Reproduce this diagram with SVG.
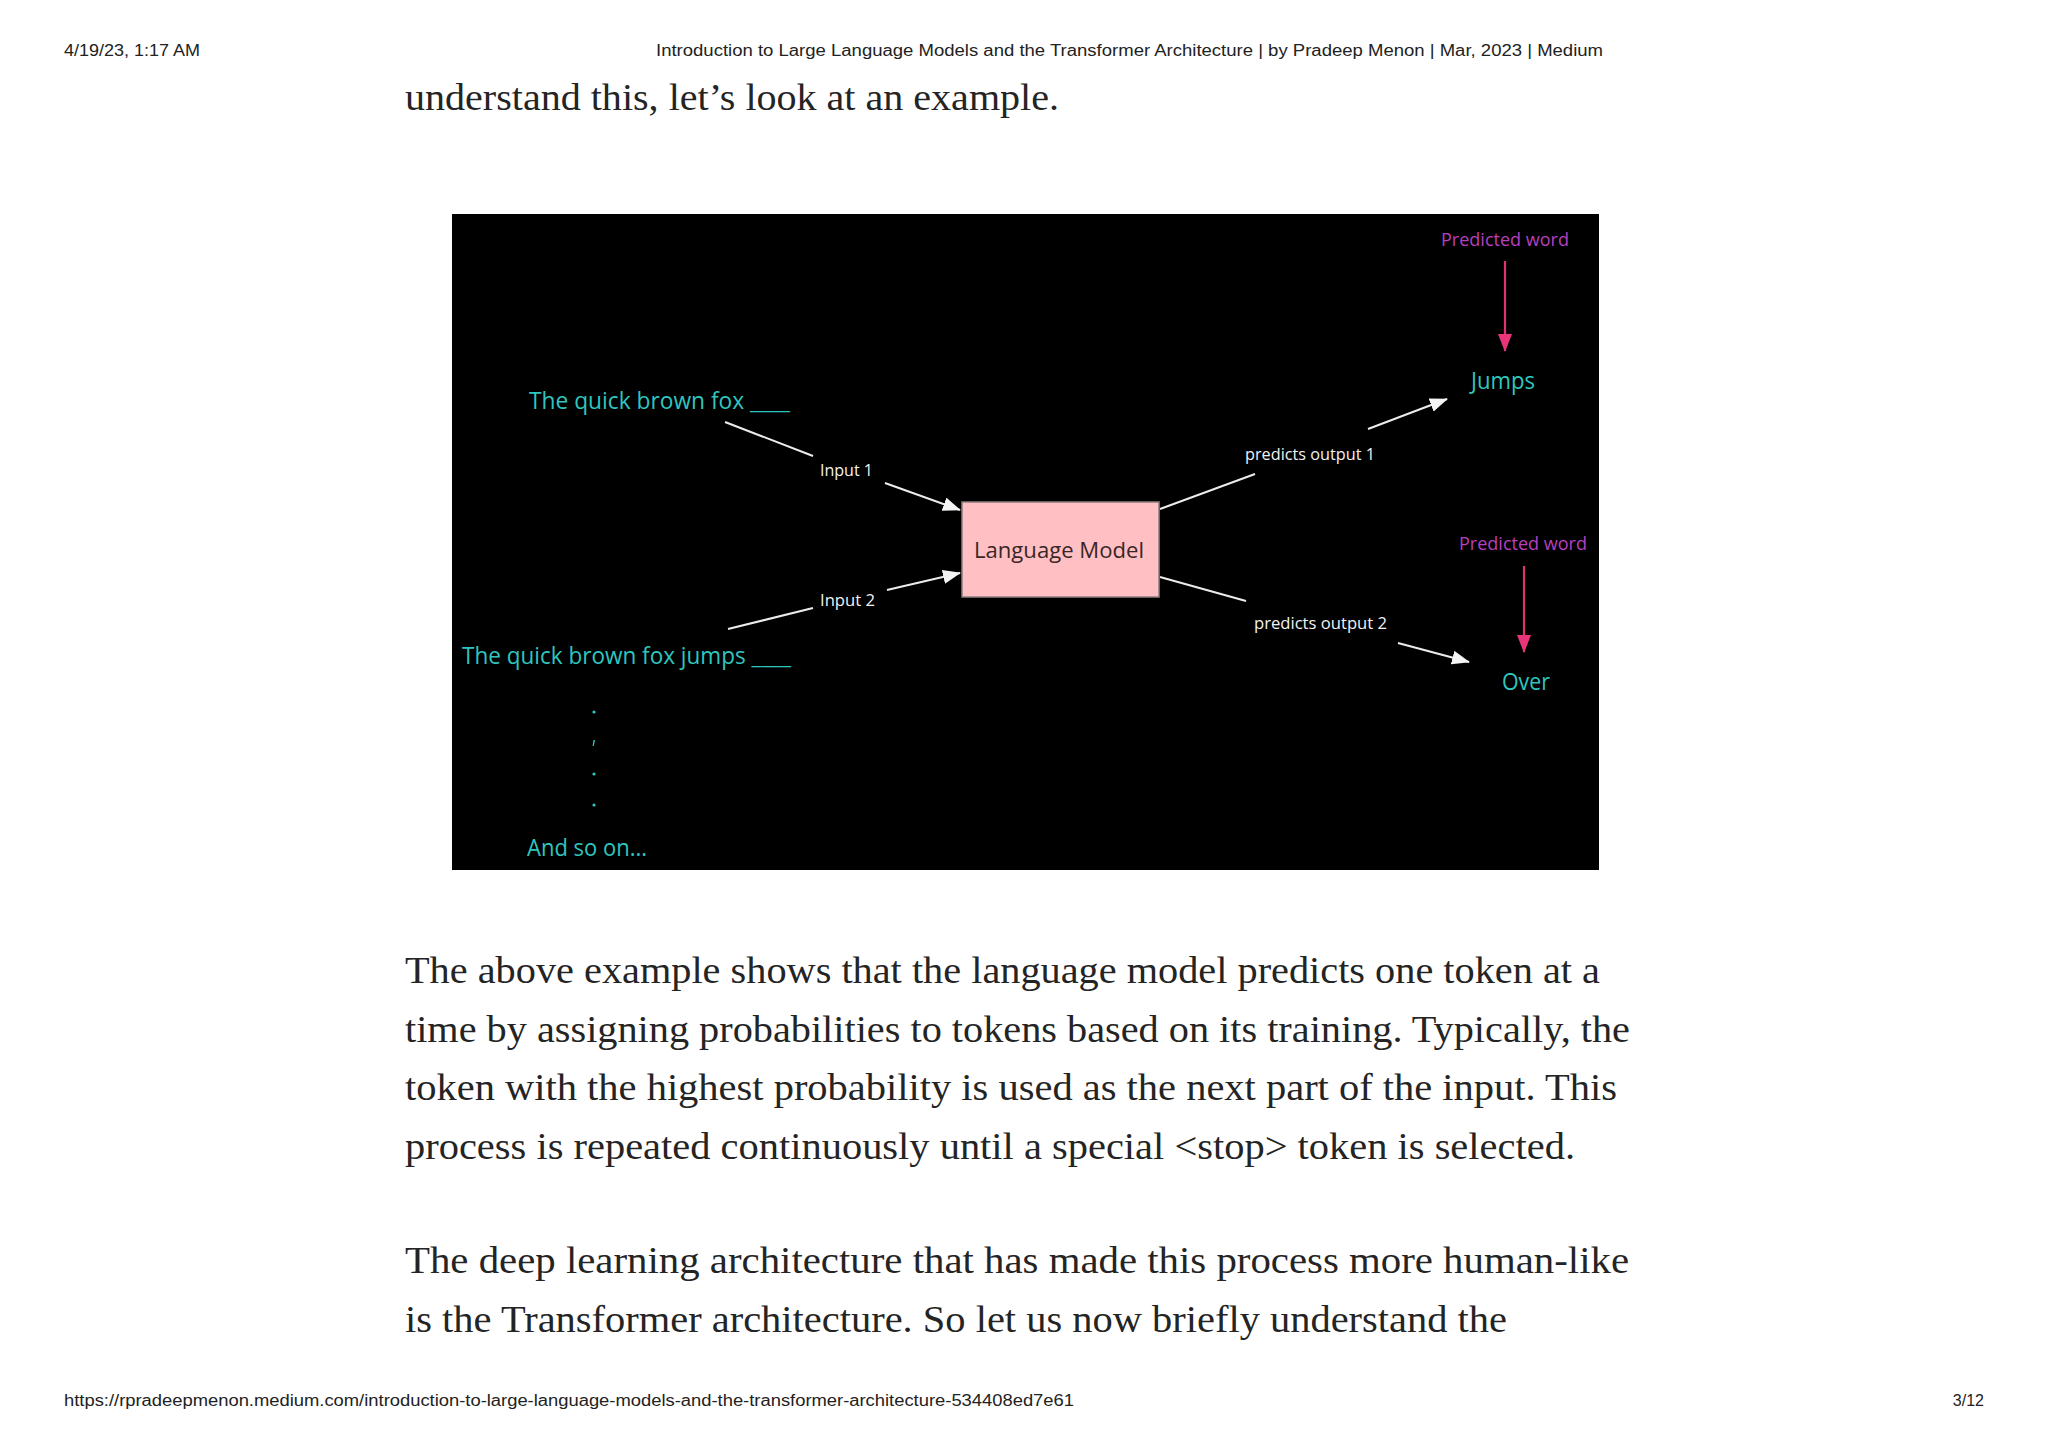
<svg xmlns="http://www.w3.org/2000/svg" width="2048" height="1447" viewBox="0 0 2048 1447">
<style>
.hdr{font-family:"Liberation Sans",Arial,sans-serif;font-size:16px;fill:#222}
.body{font-family:"Liberation Serif","DejaVu Serif",serif;font-size:38px;fill:#242424}
.cy{font-family:"Open Sans","Noto Sans",sans-serif;font-size:23px;fill:#2fc6bf}
.wl{font-family:"Open Sans","Noto Sans",sans-serif;font-size:17px;fill:#f2f2f2}
.pw{font-family:"Open Sans","Noto Sans",sans-serif;font-size:18px;fill:#b83fbf}
.lm{font-family:"Open Sans","Noto Sans",sans-serif;font-size:22px;fill:#3a2626}
.wline{stroke:#ececec;stroke-width:2;fill:none}
.pline{stroke:#e0326f;stroke-width:2.2;fill:none}
</style>
<defs>
<marker id="wh" markerUnits="userSpaceOnUse" markerWidth="18" markerHeight="14" refX="17" refY="7" orient="auto"><path d="M0,0 L18,7 L0,14 z" fill="#f4f4f4"/></marker>
<marker id="ph" markerUnits="userSpaceOnUse" markerWidth="18" markerHeight="14" refX="17" refY="7" orient="auto"><path d="M0,0 L18,7 L0,14 z" fill="#e8357a"/></marker>
</defs>
<rect x="0" y="0" width="2048" height="1447" fill="#ffffff"/>
<g id="page-header">
<text class="hdr" x="64" y="56" textLength="136" lengthAdjust="spacingAndGlyphs">4/19/23, 1:17 AM</text>
<text class="hdr" x="656" y="56" textLength="947" lengthAdjust="spacingAndGlyphs">Introduction to Large Language Models and the Transformer Architecture | by Pradeep Menon | Mar, 2023 | Medium</text>
</g>
<g id="intro-text">
<text class="body" x="405" y="110" textLength="654" lengthAdjust="spacingAndGlyphs">understand this, let’s look at an example.</text>
</g>
<rect x="452" y="214" width="1147" height="656" fill="#000000"/>
<g id="connectors">
<line class="wline" x1="725" y1="422" x2="813" y2="456"/>
<line class="wline" x1="885" y1="483" x2="960" y2="510" marker-end="url(#wh)"/>
<line class="wline" x1="728" y1="629" x2="813" y2="608"/>
<line class="wline" x1="887" y1="590" x2="960" y2="573" marker-end="url(#wh)"/>
<line class="wline" x1="1160" y1="509" x2="1255" y2="474"/>
<line class="wline" x1="1368" y1="429" x2="1447" y2="399" marker-end="url(#wh)"/>
<line class="wline" x1="1160" y1="577" x2="1246" y2="601"/>
<line class="wline" x1="1398" y1="643" x2="1469" y2="662" marker-end="url(#wh)"/>
<line class="pline" x1="1505" y1="261" x2="1505" y2="351" marker-end="url(#ph)"/>
<line class="pline" x1="1524" y1="566" x2="1524" y2="652" marker-end="url(#ph)"/>
</g>
<g id="input1-text"><text class="cy" x="529" y="409" textLength="261" lengthAdjust="spacingAndGlyphs">The quick brown fox ____</text></g>
<g id="input1-label"><text class="wl" x="820" y="476" textLength="53" lengthAdjust="spacingAndGlyphs">Input 1</text></g>
<g id="input2-label"><text class="wl" x="820" y="606" textLength="55" lengthAdjust="spacingAndGlyphs">Input 2</text></g>
<g id="input2-text"><text class="cy" x="462" y="664" textLength="329" lengthAdjust="spacingAndGlyphs">The quick brown fox jumps ____</text></g>
<g id="ellipsis-dots" fill="#2fc6bf">
<circle cx="594" cy="712" r="1.6"/>
<path d="M593.5,740 L595,740 L593.8,746 L592.6,746 z"/>
<circle cx="594" cy="774" r="1.6"/>
<circle cx="594" cy="805" r="1.6"/>
</g>
<g id="and-so-on"><text class="cy" x="527" y="856" textLength="120" lengthAdjust="spacingAndGlyphs">And so on...</text></g>
<g id="language-model">
<rect x="962" y="502" width="197" height="95" fill="#ffbfc3" stroke="#8c7f80" stroke-width="1.5"/>
<text class="lm" x="974" y="558" textLength="170" lengthAdjust="spacingAndGlyphs">Language Model</text>
</g>
<g id="output1-label"><text class="wl" x="1245" y="460" textLength="130" lengthAdjust="spacingAndGlyphs">predicts output 1</text></g>
<g id="output2-label"><text class="wl" x="1254" y="629" textLength="133" lengthAdjust="spacingAndGlyphs">predicts output 2</text></g>
<g id="predicted-word-1"><text class="pw" x="1441" y="246" textLength="128" lengthAdjust="spacingAndGlyphs">Predicted word</text></g>
<g id="jumps"><text class="cy" x="1471" y="389" textLength="64" lengthAdjust="spacingAndGlyphs">Jumps</text></g>
<g id="predicted-word-2"><text class="pw" x="1459" y="550" textLength="128" lengthAdjust="spacingAndGlyphs">Predicted word</text></g>
<g id="over"><text class="cy" x="1502" y="690" textLength="48" lengthAdjust="spacingAndGlyphs">Over</text></g>
<g id="body-text">
<text class="body" x="405" y="983" textLength="1195" lengthAdjust="spacingAndGlyphs">The above example shows that the language model predicts one token at a</text>
<text class="body" x="405" y="1042" textLength="1225" lengthAdjust="spacingAndGlyphs">time by assigning probabilities to tokens based on its training. Typically, the</text>
<text class="body" x="405" y="1100" textLength="1212" lengthAdjust="spacingAndGlyphs">token with the highest probability is used as the next part of the input. This</text>
<text class="body" x="405" y="1159" textLength="1170" lengthAdjust="spacingAndGlyphs">process is repeated continuously until a special &lt;stop&gt; token is selected.</text>
<text class="body" x="405" y="1273" textLength="1224" lengthAdjust="spacingAndGlyphs">The deep learning architecture that has made this process more human-like</text>
<text class="body" x="405" y="1332" textLength="1102" lengthAdjust="spacingAndGlyphs">is the Transformer architecture. So let us now briefly understand the</text>
</g>
<g id="page-footer">
<text class="hdr" x="64" y="1406" textLength="1010" lengthAdjust="spacingAndGlyphs">https://rpradeepmenon.medium.com/introduction-to-large-language-models-and-the-transformer-architecture-534408ed7e61</text>
<text class="hdr" x="1984" y="1406" text-anchor="end">3/12</text>
</g>
</svg>
